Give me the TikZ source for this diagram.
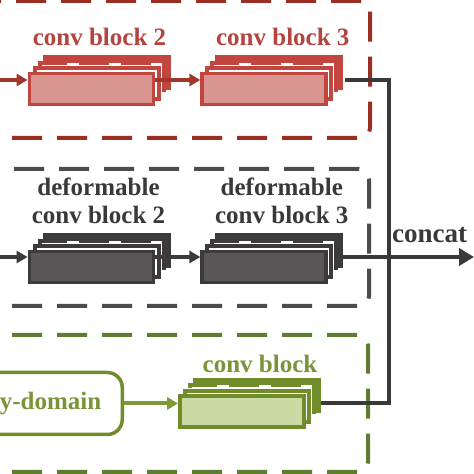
\documentclass[tikz,border=0pt]{standalone}
\usepackage{fontspec}
\setmainfont{Liberation Serif}
\usepackage{xcolor}
\usepackage{tikz}
\usetikzlibrary{positioning, shadows, arrows.meta}

\definecolor{redbox}{HTML}{9B2E22}
\definecolor{redline}{HTML}{C1463F}
\definecolor{redfill}{HTML}{DB9591}
\definecolor{redtext}{HTML}{B5443E}
\definecolor{redarrow}{HTML}{A0372C}
\definecolor{graybox}{HTML}{4D4B4C}
\definecolor{grayline}{HTML}{3C3A3B}
\definecolor{grayfill}{HTML}{5B5758}
\definecolor{graytext}{HTML}{3A3838}
\definecolor{greenbox}{HTML}{5C7E30}
\definecolor{greenline}{HTML}{6F8D2B}
\definecolor{greenfill}{HTML}{CBDAA3}
\definecolor{greentext}{HTML}{7A9438}
\definecolor{greenarrow}{HTML}{7D9A35}
\definecolor{busline}{HTML}{3B3839}

\begin{document}
\begin{tikzpicture}[x=1pt, y=1pt, >={Triangle[length=11pt,width=12pt]}, node distance=45pt,
  frame/.style={line width=4pt, dash pattern=on 30pt off 15pt, rounded corners=10pt},
  stack/.style 2 args={draw=#1, fill=#2, line width=3.8pt, inner sep=0pt,
    minimum width=124pt, minimum height=31pt,
    copy shadow={shadow xshift=15pt, shadow yshift=16pt, draw=#1, fill=#1, line width=4pt},
    copy shadow={shadow xshift=10pt, shadow yshift=10.7pt, draw=#1, fill=white, line width=4pt, dash pattern=on 30pt off 12pt},
    copy shadow={shadow xshift=5pt, shadow yshift=5.3pt, draw=#1, fill=white, line width=4pt}},
  lbl/.style={inner sep=0pt, align=center, font=\bfseries\fontsize{25}{28}\selectfont},
  arr/.style={->, line width=4pt},
  bus/.style={line width=4pt, draw=busline}]
\useasboundingbox (0,0) rectangle (474,474);

% Marcos
\draw[frame, redbox] (-33,336) -- (370,336) -- (370,473) -- (-33,473);
\draw[frame, graybox] (-33,168) -- (369,168) -- (369,305) -- (-33,305);
\draw[frame, greenbox] (-33,2) -- (368,2) -- (368,139) -- (-33,139);

% Bloques
\node[stack={redline}{redfill}] (r2) at (91.5,385) {};
\node[stack={redline}{redfill}, right=of r2] (r3) {};
\node[stack={grayline}{grayfill}] (d2) at (91.5,207) {};
\node[stack={grayline}{grayfill}, right=of d2] (d3) {};
\node[stack={greenline}{greenfill}] (g1) at (242,62.5) {};
\node[lbl, draw=greenline, line width=3.5pt, rounded corners=15pt, text=greentext,
  text width=150pt, align=right, inner xsep=21pt, minimum height=62pt, anchor=east] (dom) at (124,70.5) {y-domain};

% Etiquetas
\node[lbl, text=redtext, above=26pt of r2, xshift=8pt] (r2l) {conv block 2};
\node[lbl, text=redtext, above=26pt of r3, xshift=18.5pt] (r3l) {conv block 3};
\node[lbl, text=graytext, above=26pt of d2, xshift=7pt] (d2l) {deformable\\conv block 2};
\node[lbl, text=graytext, above=26pt of d3, xshift=17.5pt] (d3l) {deformable\\conv block 3};
\node[lbl, text=greentext, above=21pt of g1, xshift=18pt] (g1l) {conv block};

% Conexiones
\coordinate (rin) at (0,394);
\coordinate (din) at (0,217);
\draw[arr, redarrow] (rin) -- (rin -| r2.west);
\draw[arr, redarrow] (rin -| r2.east) -- (rin -| r3.west);
\draw[arr, grayline] (din) -- (din -| d2.west);
\draw[arr, grayline] (din -| d2.east) -- (din -| d3.west);
\draw[arr, greenarrow] (dom.east) -- (dom.east -| g1.west);

% Concat
\coordinate (busx) at (389,0);
\coordinate (cat) at (474,217);
\path (rin -| r3.east) ++(17pt,0) coordinate (r3o);
\path (din -| d3.east) ++(12pt,0) coordinate (d3o);
\path (dom.east -| g1.east) ++(15pt,0) coordinate (g1o);
\draw[bus] (r3o) -- (r3o -| busx) -- (g1o -| busx) -- (g1o);
\draw[bus, -{Triangle[length=15pt,width=17pt]}] (d3o) -- (cat);
\node[lbl, text=graytext, font=\bfseries\fontsize{27}{30}\selectfont, anchor=base west] (catl) at (392,231) {concat};
\end{tikzpicture}
\end{document}
